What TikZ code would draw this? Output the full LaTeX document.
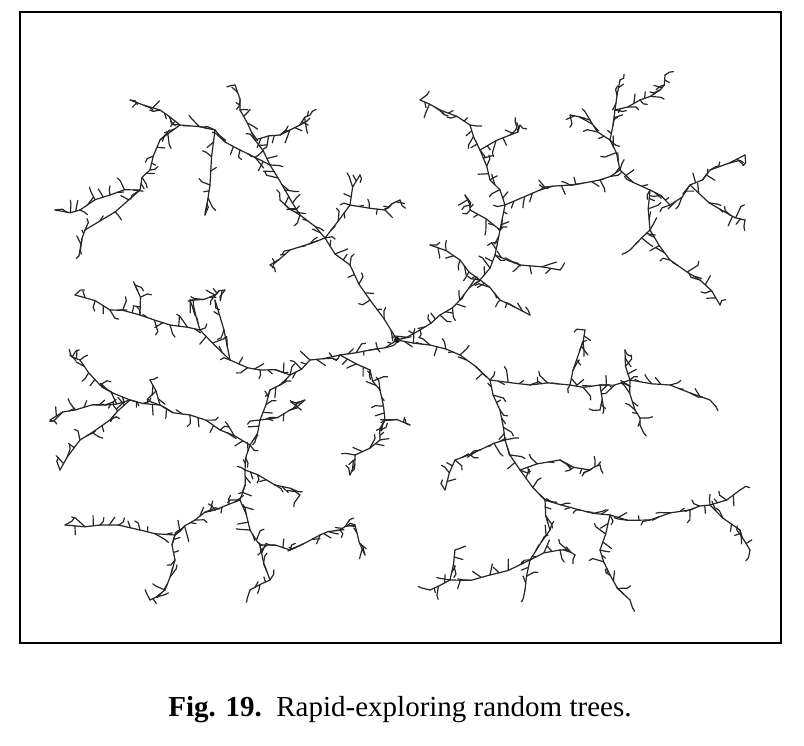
\documentclass[tikz,border=0pt]{standalone}
\usepackage{fontspec}
\setmainfont{Liberation Serif}
\usetikzlibrary{calc}
\tikzset{br/.style={draw=black!85,line width=1.2pt,line join=round,line cap=round},
frame/.style={draw=black,line width=1.2pt}}
\newcommand\rrt[1]{%
 \foreach \x/\y [count=\i, remember=\x as \px, remember=\y as \py] in {#1}{%
  \ifnum\i>1
   \pgfmathsetmacro\mx{(\px+\x)/2+rand*3}\pgfmathsetmacro\my{(\py+\y)/2+rand*3}
   \draw[br] (\px,\py) -- (\mx,\my) -- (\x,\y);
   \pgfmathsetmacro\aa{rnd*360}\pgfmathsetmacro\la{5+rnd*8}\pgfmathsetmacro\ac{\aa+50*rand}
   \draw[br] (\mx,\my) -- ++(\aa:\la) -- ++(\ac:4);
   \pgfmathsetmacro\ab{rnd*360}\pgfmathsetmacro\lb{4+rnd*7}
   \draw[br] ($(\px,\py)!0.45!(\mx,\my)$) -- ++(\ab:\lb);
   \pgfmathsetmacro\ad{rnd*360}\pgfmathsetmacro\ld{4+rnd*7}
   \draw[br] ($(\mx,\my)!0.5!(\x,\y)$) -- ++(\ad:\ld);
   \pgfmathsetmacro\ae{rnd*360}\pgfmathsetmacro\le{4+rnd*6}\pgfmathsetmacro\af{\ae+60*rand}
   \draw[br] (\x,\y) -- ++(\ae:\le) -- ++(\af:4);
  \fi}}
\begin{document}
\begin{tikzpicture}[x=1pt,y=-1pt]
\pgfmathsetseed{19}
\fill[white] (0,0) rectangle (804,746);
\draw[frame] (20,12) rectangle (781,643);
\node (cap) at (400,710) {\fontsize{29}{34}\selectfont\textbf{Fig. 19.}\ \ Rapid-exploring random trees.};
\fill[black] (397,340) circle (3);
% up-left
\rrt{397/340,370/300,350/265,325/238,300/215,285/190,270/165,255/140,240/110,235/85}
\rrt{270/165,240/150,215/130,180/125,160/140,150/170,140/190,110/195,80/210,55/210}
\rrt{180/125,160/110,130/100}
\rrt{325/238,350/205,360/175}
\rrt{325/238,290/250,270/265}
\rrt{300/215,280/200}
\rrt{350/205,385/210,400/200}
\rrt{255/140,280/135,300/125,310/115}
\rrt{215/130,210/185,205/215}
\rrt{140/190,85/230,80/250}
% up-right
\rrt{397/340,420/330,440/315,460/300,480/280,495/255,500/230,505/205,490/180,480/150,470/125,440/110,420/100}
\rrt{505/205,540/190,570/185,600/180,620/170,610/140,615/110,620/80}
\rrt{620/170,650/190,670/205,690/185,710/170,745/155}
\rrt{650/190,650/230,670/260,700/280,720/305}
\rrt{610/140,590/120,570/115}
\rrt{615/110,640/100,660/90,665/75}
\rrt{480/280,460/260,430/245}
\rrt{495/255,520/265,560/270}
\rrt{480/150,510/135,520/125}
\rrt{500/230,470/210,465/195}
\rrt{480/280,500/300,530/315}
\rrt{690/185,730/215,745/220}
\rrt{650/230,630/250}
% right-down
\rrt{397/340,430/345,460/355,490/380,500/410,505/440,520/470,545/500,550/530,530/560,525/590}
\rrt{490/380,530/385,570/385,600/385,630/380,670/385,710/400}
\rrt{630/380,625/350}
\rrt{570/385,580/350,585/330}
\rrt{630/380,635/410,640/425}
\rrt{545/500,580/510,610/515,650/520,690/510,710/505,740/490}
\rrt{710/505,740/530,750/550}
\rrt{610/515,600/550,610/575,630/600}
\rrt{530/560,490/575,450/580,430/590}
\rrt{505/440,480/450,455/460,445/490}
\rrt{600/385,600/410}
\rrt{520/470,560/460,590/470,600/465}
\rrt{530/560,560/550,575/555}
\rrt{450/580,455/550}
% left-down
\rrt{397/340,370/350,340/355,310/360,290/375,270/390,260/420,250/445,245/470,240/500,250/530,260/545,290/550,320/535,340/530,355/525,365/555}
\rrt{260/545,270/580,250/590}
\rrt{240/500,215/510,195/520,175/535,140/530,100/525,65/525}
\rrt{175/535,175/560,165/590,150/600}
\rrt{290/375,260/370,230/360,200/330,190/300,215/295,225/290}
\rrt{200/330,170/325,140/315,110/310,75/295}
\rrt{140/315,135/285}
\rrt{250/445,220/430,190/415,160/405,130/400,100/385,80/360,70/355}
\rrt{130/400,110/420,80/440,60/470}
\rrt{130/400,105/405,75/410,50/420}
\rrt{340/355,370/370,380/390,385/420,380/440,355/455,350/475}
\rrt{385/420,410/425}
\rrt{245/470,275/485,300/495}
\rrt{160/405,150/380}
\rrt{260/420,290/410,305/400}
\rrt{230/360,215/300}
\end{tikzpicture}
\end{document}
